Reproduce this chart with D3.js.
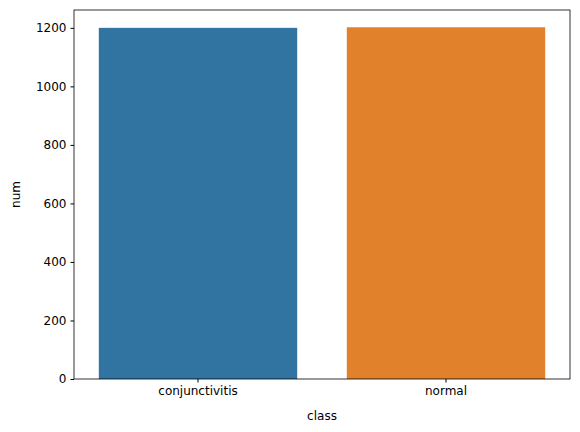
<!DOCTYPE html>
<html>
<head>
<meta charset="utf-8">
<script src="https://cdn.jsdelivr.net/npm/d3@7"></script>
<style>
  body { margin: 0; background: #fff; }
  text { font-family: "DejaVu Sans", sans-serif; }
</style>
</head>
<body>
<script>
const categories = ["conjunctivitis", "normal"];
const counts = [1200, 1202];
const colors = ["#3274a1", "#e1812c"];
const yTicks = [0, 200, 400, 600, 800, 1000, 1200];

const width = 580, height = 432;
const margin = { top: 10, right: 10, bottom: 53, left: 74 };

const svg = d3.select("body").append("svg")
    .attr("width", width)
    .attr("height", height);

const x = d3.scaleBand()
    .domain(categories)
    .range([margin.left, width - margin.right])
    .paddingInner(0.2)
    .paddingOuter(0.1);

const y = d3.scaleLinear()
    .domain([0, 1261])
    .range([height - margin.bottom, margin.top]);

svg.selectAll("rect.bar")
    .data(categories)
    .enter().append("rect")
    .attr("class", "bar")
    .attr("x", d => x(d))
    .attr("width", x.bandwidth())
    .attr("y", (d, i) => y(counts[i]))
    .attr("height", (d, i) => y(0) - y(counts[i]))
    .attr("fill", (d, i) => colors[i]);

// axes
const xAxis = svg.append("g")
    .attr("transform", `translate(0,${height - margin.bottom})`)
    .call(d3.axisBottom(x).tickSizeOuter(0).tickSize(3.5).tickPadding(4));

const yAxis = svg.append("g")
    .attr("transform", `translate(${margin.left},0)`)
    .call(d3.axisLeft(y).tickValues(yTicks).tickFormat(d3.format("d"))
        .tickSizeOuter(0).tickSize(3.5).tickPadding(4));

[xAxis, yAxis].forEach(g => {
    g.selectAll("text").style("font-size", "12px").attr("fill", "#000");
    g.selectAll("line").attr("stroke", "#000");
    g.select(".domain").remove();
});

// frame
svg.append("rect")
    .attr("x", margin.left)
    .attr("y", margin.top)
    .attr("width", width - margin.left - margin.right)
    .attr("height", height - margin.top - margin.bottom)
    .attr("fill", "none")
    .attr("stroke", "#000")
    .attr("stroke-width", 0.8);

svg.append("text")
    .attr("x", (margin.left + width - margin.right) / 2)
    .attr("y", 420)
    .attr("text-anchor", "middle")
    .style("font-size", "12px")
    .text("class");

svg.append("text")
    .attr("transform", `translate(20,${(margin.top + height - margin.bottom) / 2}) rotate(-90)`)
    .attr("text-anchor", "middle")
    .style("font-size", "12px")
    .text("num");
</script>
</body>
</html>
